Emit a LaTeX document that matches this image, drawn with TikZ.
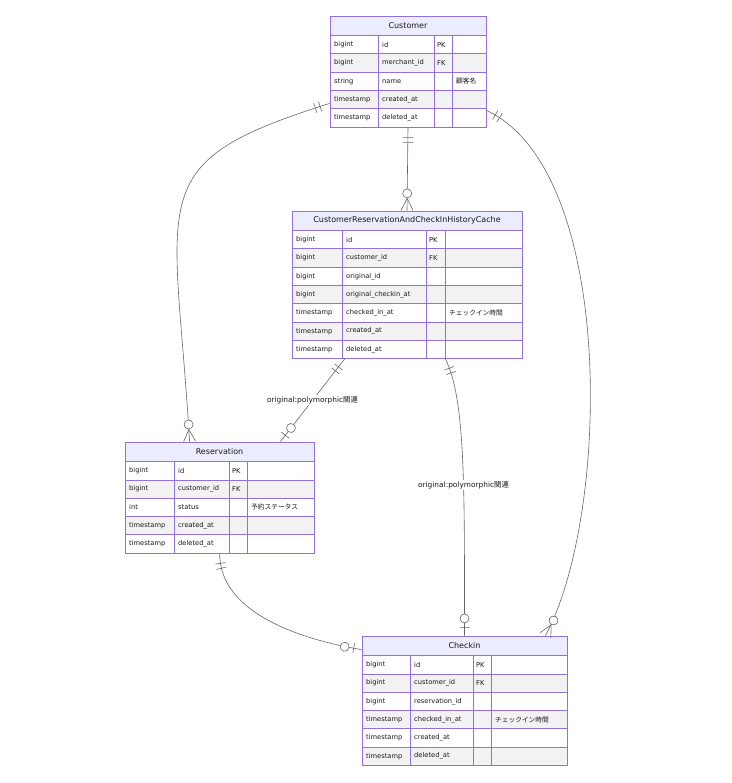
\documentclass[tikz,border=0pt]{standalone}
\usepackage{fontspec}
\setmainfont{DejaVu Sans}
\newfontfamily\cjk{Noto Sans CJK JP}
\usetikzlibrary{decorations.markings,calc,fit}

\definecolor{erline}{HTML}{9370DB}
\definecolor{erhead}{HTML}{ECECFF}
\definecolor{erodd}{HTML}{F2F2F2}

\tikzset{
	cell/.style={draw=erline, line width=0.6pt},
	celltext/.style={anchor=west, inner sep=0pt, font=\fontsize{6.7}{7}\selectfont, text=black!90},
	headtext/.style={inner sep=0pt, font=\fontsize{8}{9}\selectfont, text=black!90},
	tablebox/.style={draw=erline, line width=0.8pt, inner sep=0pt},
	rel/.style={draw=black!60, line width=0.6pt},
	rellabel/.style={fill=white, inner sep=1pt, font=\fontsize{7.4}{8}\selectfont, text=black!90},
	oneone/.style={postaction={decorate, decoration={markings,
		mark=at position 10pt with {\draw[black!60, line width=0.6pt] (0,-5pt) -- (0,5pt);},
		mark=at position 15pt with {\draw[black!60, line width=0.6pt] (0,-5pt) -- (0,5pt);}}}},
	zeromany/.style={postaction={decorate, decoration={markings,
		mark=at position -0.2pt with {\draw[black!60, line width=0.6pt] (-12pt,0) -- (0,6pt) (-12pt,0) -- (0,-6pt);
			\draw[black!60, line width=0.6pt, fill=white] (-17pt,0) circle (4.5pt);}}}},
	zeroone/.style={postaction={decorate, decoration={markings,
		mark=at position -8pt with {\draw[black!60, line width=0.6pt] (0,-5pt) -- (0,5pt);},
		mark=at position -0.2pt with {\draw[black!60, line width=0.6pt, fill=white] (-17pt,0) circle (4.5pt);}}}}
}

% name, x0, y0, column edges c1 c2 c3 c4, title, rows
\newcommand\ertable[9]{%
	\fill[erhead] (#2,#3) rectangle (#7,#3+19.5);
	\node[headtext] at ({(#2+#7)/2},#3+9.75) {#8};
	\foreach \ty/\nm/\ky/\cm [count=\i] in {#9}{
		\pgfmathsetmacro\rtop{#3+19.5+(\i-1)*18.3}
		\pgfmathsetmacro\rbot{\rtop+18.3}
		\ifodd\i \def\rowcol{white}\else \def\rowcol{erodd}\fi
		\fill[\rowcol] (#2,\rtop) rectangle (#7,\rbot);
		\draw[cell] (#2,\rtop) rectangle (#4,\rbot) (#4,\rtop) rectangle (#5,\rbot)
			(#5,\rtop) rectangle (#6,\rbot) (#6,\rtop) rectangle (#7,\rbot);
		\node[celltext] at (#2+4,\rtop+9.15) {\ty};
		\node[celltext] at (#4+4,\rtop+9.15) {\nm};
		\node[celltext] at (#5+3,\rtop+9.15) {\ky};
		\node[celltext] at (#6+4,\rtop+9.15) {\cm};
		\xdef\ernrows{\i}
	}
	\coordinate (#1-nw) at (#2,#3);
	\coordinate (#1-se) at (#7,{#3+19.5+\ernrows*18.3});
	\node[tablebox, fit=(#1-nw)(#1-se)] (#1) {};
}

\begin{document}
\begin{tikzpicture}[x=1pt, y=-1pt]
	\useasboundingbox (0,0) rectangle (731,783);

	\ertable{cust}{330}{16}{378}{434}{452}{486}{Customer}{
		bigint/id/PK/{}, bigint/merchant\_id/FK/{}, string/name/{}/{\cjk 顧客名},
		timestamp/created\_at/{}/{}, timestamp/deleted\_at/{}/{}}
	\ertable{cache}{292}{211}{342}{426}{445}{522}{CustomerReservationAndCheckInHistoryCache}{
		bigint/id/PK/{}, bigint/customer\_id/FK/{}, bigint/original\_id/{}/{},
		bigint/original\_checkin\_at/{}/{}, timestamp/checked\_in\_at/{}/{\cjk チェックイン時間},
		timestamp/created\_at/{}/{}, timestamp/deleted\_at/{}/{}}
	\ertable{resv}{125}{442}{174}{229}{247}{314}{Reservation}{
		bigint/id/PK/{}, bigint/customer\_id/FK/{}, int/status/{}/{\cjk 予約ステータス},
		timestamp/created\_at/{}/{}, timestamp/deleted\_at/{}/{}}
	\ertable{chk}{362}{636}{410}{473}{491}{567}{Checkin}{
		bigint/id/PK/{}, bigint/customer\_id/FK/{}, bigint/reservation\_id/{}/{},
		timestamp/checked\_in\_at/{}/{\cjk チェックイン時間},
		timestamp/created\_at/{}/{}, timestamp/deleted\_at/{}/{}}

	% relations
	\draw[rel, oneone, zeromany] (cust.south) -- (cache.north);
	\draw[rel, oneone, zeromany] ($(cust.south west)+(0,-24)$)
		.. controls +(-190,60) and +(-15,-250) .. ($(resv.north west)+(65,0)$);
	\draw[rel, oneone, zeromany] ($(cust.south east)+(0,-17)$)
		.. controls +(130,60) and +(65,-120) .. ($(chk.north east)+(-22,0)$);
	\draw[rel, oneone, zeroone] ($(cache.south west)+(53,0)$) -- ($(resv.north east)+(-34,0)$)
		node[rellabel, pos=0.5] {original:polymorphic{\cjk 関連}};
	\draw[rel, oneone, zeroone] ($(cache.south east)+(-77,0)$)
		.. controls +(20,40) and +(0,-150) .. (chk.north)
		node[rellabel, pos=0.6] {original:polymorphic{\cjk 関連}};
	\draw[rel, oneone, zeroone] ($(resv.south west)+(95,0)$)
		.. controls +(0,60) and +(-60,-10) .. ($(chk.north west)+(0,14)$);
\end{tikzpicture}
\end{document}
